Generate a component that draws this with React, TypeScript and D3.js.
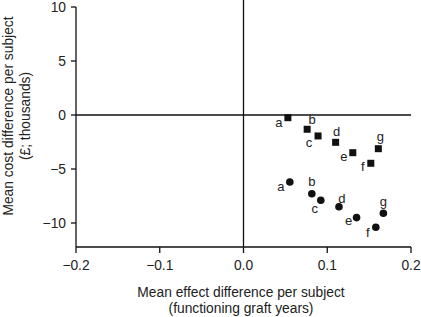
import React from "react";
import * as d3 from "d3";

const labels = ["a", "b", "c", "d", "e", "f", "g"];
const squareX = [0.053, 0.076, 0.089, 0.110, 0.1305, 0.152, 0.161];
const squareY = [-0.25, -1.32, -1.94, -2.53, -3.49, -4.47, -3.12];
const circleX = [0.0553, 0.0816, 0.0923, 0.114, 0.135, 0.158, 0.167];
const circleY = [-6.2, -7.29, -7.9, -8.49, -9.5, -10.4, -9.1];
const xTicks = [-0.2, -0.1, 0.0, 0.1, 0.2];
const yTicks = [10, 5, 0, -5, -10];

// label offsets (style)
const squareLabelOffset: [number, number][] = [[-9, 5], [5, -10], [-9, 7], [1, -11], [-9, 4], [-8, 3], [2, -12]];
const circleLabelOffset: [number, number][] = [[-9, 5], [0, -12], [-6, 8], [3, -8], [-8, 3], [-8, 5], [0, -12]];

export default function App() {
  const W = 421, H = 317;
  const x = d3.scaleLinear().domain([-0.2, 0.2]).range([76, 411]);
  const y = d3.scaleLinear().domain([0, -10]).range([115, 223]);
  const yBottom = 247;
  const font = "'Liberation Sans', Arial, sans-serif";
  const fs = 13.8;
  const sq = 7;
  return (
    <svg width={W} height={H} style={{ position: "absolute", left: 0, top: 0, background: "#fff" }} fontFamily={font}>
      {/* axes */}
      <line x1={76} x2={76} y1={y(10)} y2={yBottom} stroke="#111" strokeWidth={1.3} />
      <line x1={76} x2={x(0.2)} y1={yBottom} y2={yBottom} stroke="#111" strokeWidth={1.3} />
      {yTicks.map((t) => (
        <g key={"yt" + t}>
          <line x1={71} x2={76} y1={y(t)} y2={y(t)} stroke="#111" strokeWidth={1.3} />
          <text x={66} y={y(t) + 5} textAnchor="end" fontSize={fs} fill="#222">
            {t < 0 ? "\u2212" + Math.abs(t) : String(t)}
          </text>
        </g>
      ))}
      {xTicks.map((t) => (
        <g key={"xt" + t}>
          <line x1={x(t)} x2={x(t)} y1={yBottom} y2={yBottom + 6} stroke="#111" strokeWidth={1.3} />
          <text x={x(t)} y={270} textAnchor="middle" fontSize={fs} fill="#222">
            {t < 0 ? "\u2212" + Math.abs(t).toFixed(1) : t.toFixed(1)}
          </text>
        </g>
      ))}
      {/* zero lines */}
      <line x1={x(0)} x2={x(0)} y1={0} y2={yBottom} stroke="#111" strokeWidth={1.3} />
      <line x1={76} x2={x(0.2)} y1={y(0)} y2={y(0)} stroke="#111" strokeWidth={1.3} />
      {/* squares */}
      {labels.map((l, i) => (
        <g key={"s" + l}>
          <rect x={x(squareX[i]) - sq / 2} y={y(squareY[i]) - sq / 2} width={sq} height={sq} fill="#111" />
          <text x={x(squareX[i]) + squareLabelOffset[i][0]} y={y(squareY[i]) + squareLabelOffset[i][1] + 4.5} textAnchor="middle" fontSize={13} fill="#222">{l}</text>
        </g>
      ))}
      {/* circles */}
      {labels.map((l, i) => (
        <g key={"c" + l}>
          <circle cx={x(circleX[i])} cy={y(circleY[i])} r={3.8} fill="#111" />
          <text x={x(circleX[i]) + circleLabelOffset[i][0]} y={y(circleY[i]) + circleLabelOffset[i][1] + 4.5} textAnchor="middle" fontSize={13} fill="#222">{l}</text>
        </g>
      ))}
      {/* axis titles */}
      <text x={241} y={297} textAnchor="middle" fontSize={fs} fill="#222">Mean effect difference per subject</text>
      <text x={241} y={313} textAnchor="middle" fontSize={fs} fill="#222">(functioning graft years)</text>
      <g transform="translate(0,116) rotate(-90)">
        <text x={0} y={13} textAnchor="middle" fontSize={fs} fill="#222">Mean cost difference  per subject</text>
        <text x={0} y={30} textAnchor="middle" fontSize={fs} fill="#222">(£; thousands)</text>
      </g>
    </svg>
  );
}
